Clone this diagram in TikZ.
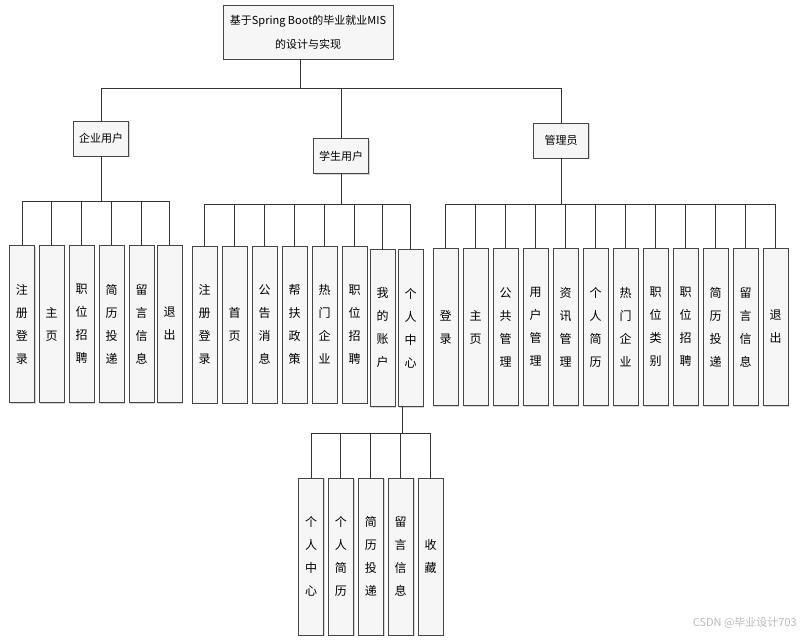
\documentclass[tikz,border=0pt]{standalone}
\usepackage{fontspec}
\newfontfamily\cjk{Noto Sans CJK SC}
\usetikzlibrary{shadows}
\tikzset{
  box/.style={draw=gray!55!black, line width=0.8pt, fill=gray!7, inner sep=0pt, align=center,
    drop shadow={shadow xshift=1.3pt, shadow yshift=-1.3pt, fill=gray!55, opacity=0.6}},
  vbox/.style={box, minimum width=25pt, minimum height=157pt, font=\cjk\fontsize{12}{23}\selectfont},
  hbox/.style={box, minimum width=55pt, minimum height=35pt, font=\cjk\fontsize{11}{13}\selectfont},
  rootbox/.style={box, minimum width=170pt, minimum height=54pt, font=\cjk\fontsize{11}{24}\selectfont},
  link/.style={draw=gray!40!black, line width=0.9pt},
  wmtext/.style={text=gray!55, font=\cjk\fontsize{11}{13}\selectfont, anchor=east, inner sep=0pt}
}
\begin{document}
\begin{tikzpicture}[x=1pt,y=-1pt]
\useasboundingbox (0,0) rectangle (812,640);
% root
\node[rootbox] (root) at (308,32) {基于Spring Boot的毕业就业MIS\\的设计与实现};
% level 2
\node[hbox] (ent) at (101,138.5) {企业用户};
\node[hbox] (stu) at (341,156) {学生用户};
\node[hbox] (adm) at (561,140.5) {管理员};
\coordinate (b0) at (300,88);
\draw[link] ([xshift=-8pt]root.south) -- (b0);
\draw[link] (b0) -| (ent.north);
\draw[link] (b0) -| (stu.north);
\draw[link] (b0) -| (adm.north);
% enterprise children
\coordinate (b1) at (101,201);
\draw[link] (ent.south) -- (b1);
\foreach \x/\t [count=\i] in {22/注\\册\\登\\录, 51.5/主\\页, 81.5/职\\位\\招\\聘, 111.5/简\\历\\投\\递, 141.5/留\\言\\信\\息, 169.5/退\\出}{
  \node[vbox] (e\i) at (\x,324) {\t};
  \draw[link] (b1) -| (e\i.north);
}
% student children
\coordinate (b2) at (341,204);
\draw[link] (stu.south) -- (b2);
\foreach \x/\y/\t [count=\i] in {204.5/324.5/注\\册\\登\\录, 234.5/324.5/首\\页, 264.5/324.5/公\\告\\消\\息, 294.5/324.5/帮\\扶\\政\\策, 324.5/324.5/热\\门\\企\\业, 354.5/324.5/职\\位\\招\\聘, 382.5/328/我\\的\\账\\户, 410.5/328/个\\人\\中\\心}{
  \node[vbox] (s\i) at (\x,\y) {\t};
  \draw[link] (b2) -| (s\i.north);
}
% admin children
\coordinate (b3) at (561,204);
\draw[link] (adm.south) -- (b3);
\foreach \t [count=\i] in {登\\录, 主\\页, 公\\共\\管\\理, 用\\户\\管\\理, 资\\讯\\管\\理, 个\\人\\简\\历, 热\\门\\企\\业, 职\\位\\类\\别, 职\\位\\招\\聘, 简\\历\\投\\递, 留\\言\\信\\息, 退\\出}{
  \pgfmathsetmacro\xx{445.5+30*(\i-1)}
  \node[vbox] (a\i) at (\xx,327) {\t};
  \draw[link] (b3) -| (a\i.north);
}
% personal centre children
\coordinate (b4) at (402,433);
\draw[link] ([xshift=-8.5pt]s8.south) -- (b4);
\foreach \t [count=\i] in {个\\人\\中\\心, 个\\人\\简\\历, 简\\历\\投\\递, 留\\言\\信\\息, 收\\藏}{
  \pgfmathsetmacro\xx{311+29.9*(\i-1)}
  \node[vbox] (p\i) at (\xx,556.5) {\t};
  \draw[link] (b4) -| (p\i.north);
}
\node[wmtext] (wm) at (797,623) {CSDN @毕业设计703};
\end{tikzpicture}
\end{document}
